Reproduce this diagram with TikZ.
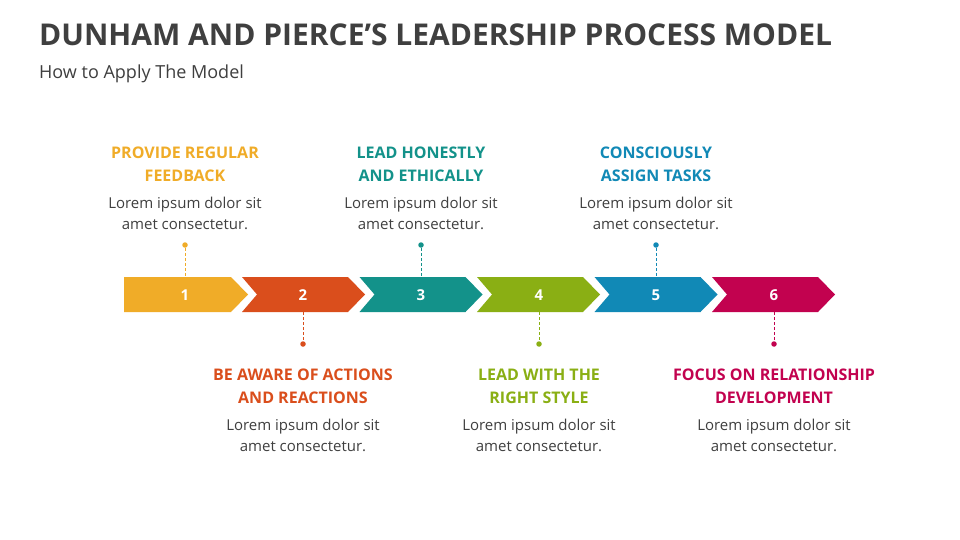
\documentclass[tikz,border=0pt]{standalone}
\usepackage{fontspec}
\setmainfont{Open Sans}
\definecolor{c1}{HTML}{F0AC28}
\definecolor{c2}{HTML}{DA4E1C}
\definecolor{c3}{HTML}{13928A}
\definecolor{c4}{HTML}{8AAF14}
\definecolor{c5}{HTML}{1189B6}
\definecolor{c6}{HTML}{C2024F}
\definecolor{ttl}{HTML}{3F3F3F}
\definecolor{bodyc}{HTML}{404040}
\begin{document}
\begin{tikzpicture}[x=1pt,y=-1pt,
  head/.style={font=\fontsize{16}{23.5}\selectfont\bfseries,align=center,inner sep=0pt},
  body/.style={font=\fontsize{15}{21}\selectfont,text=bodyc,align=center,inner sep=0pt},
  num/.style={font=\fontsize{15}{18}\selectfont\bfseries,text=white,inner sep=0pt},
  dot/.style={circle,inner sep=0pt,minimum size=5.5pt},
  lead/.style={densely dashed,line width=1pt}]
\fill[white] (0,0) rectangle (960,540);
\node[anchor=west,font=\fontsize{30}{34}\selectfont\bfseries,text=ttl,inner sep=0pt] (title) at (39,35) {DUNHAM AND PIERCE’S LEADERSHIP PROCESS MODEL};
\node[anchor=west,font=\fontsize{18}{22}\selectfont,text=ttl,inner sep=0pt] (sub) at (39,74) {How to Apply The Model};
% arrows
\fill[c1] (124,277) -- (231,277) -- (248,294.5) -- (231,312) -- (124,312) -- cycle;
\foreach \i/\c in {1/c2,2/c3,3/c4,4/c5,5/c6}{
  \pgfmathsetmacro\tx{242+(\i-1)*117.5}
  \fill[\c] (\tx,277) -- (\tx+106,277) -- (\tx+123,294.5) -- (\tx+106,312) -- (\tx,312) -- (\tx+15,294.5) -- cycle;
}
\foreach \n/\x in {1/185,2/303,3/421,4/539,5/656,6/774}{
  \node[num] (n\n) at (\x,295) {\n};
}
% top items
\foreach \n/\x/\c/\h in {1/185/c1/{PROVIDE REGULAR\\FEEDBACK},3/421/c3/{LEAD HONESTLY\\AND ETHICALLY},5/656/c5/{CONSCIOUSLY\\ASSIGN TASKS}}{
  \node[head,text=\c] (h\n) at (\x,164.5) {\h};
  \node[body] (b\n) at (\x,213.5) {Lorem ipsum dolor sit\\amet consectetur.};
  \node[dot,fill=\c] (d\n) at (\x,245) {};
  \coordinate (e\n) at (\x,277);
  \draw[lead,\c] (d\n) -- (e\n);
}
\foreach \n/\x/\c/\h in {2/303/c2/{BE AWARE OF ACTIONS\\AND REACTIONS},4/539/c4/{LEAD WITH THE\\RIGHT STYLE},6/774/c6/{FOCUS ON RELATIONSHIP\\DEVELOPMENT}}{
  \node[head,text=\c] (h\n) at (\x,386.5) {\h};
  \node[body] (b\n) at (\x,435.5) {Lorem ipsum dolor sit\\amet consectetur.};
  \node[dot,fill=\c] (d\n) at (\x,344) {};
  \coordinate (e\n) at (\x,312);
  \draw[lead,\c] (e\n) -- (d\n);
}
\end{tikzpicture}
\end{document}
